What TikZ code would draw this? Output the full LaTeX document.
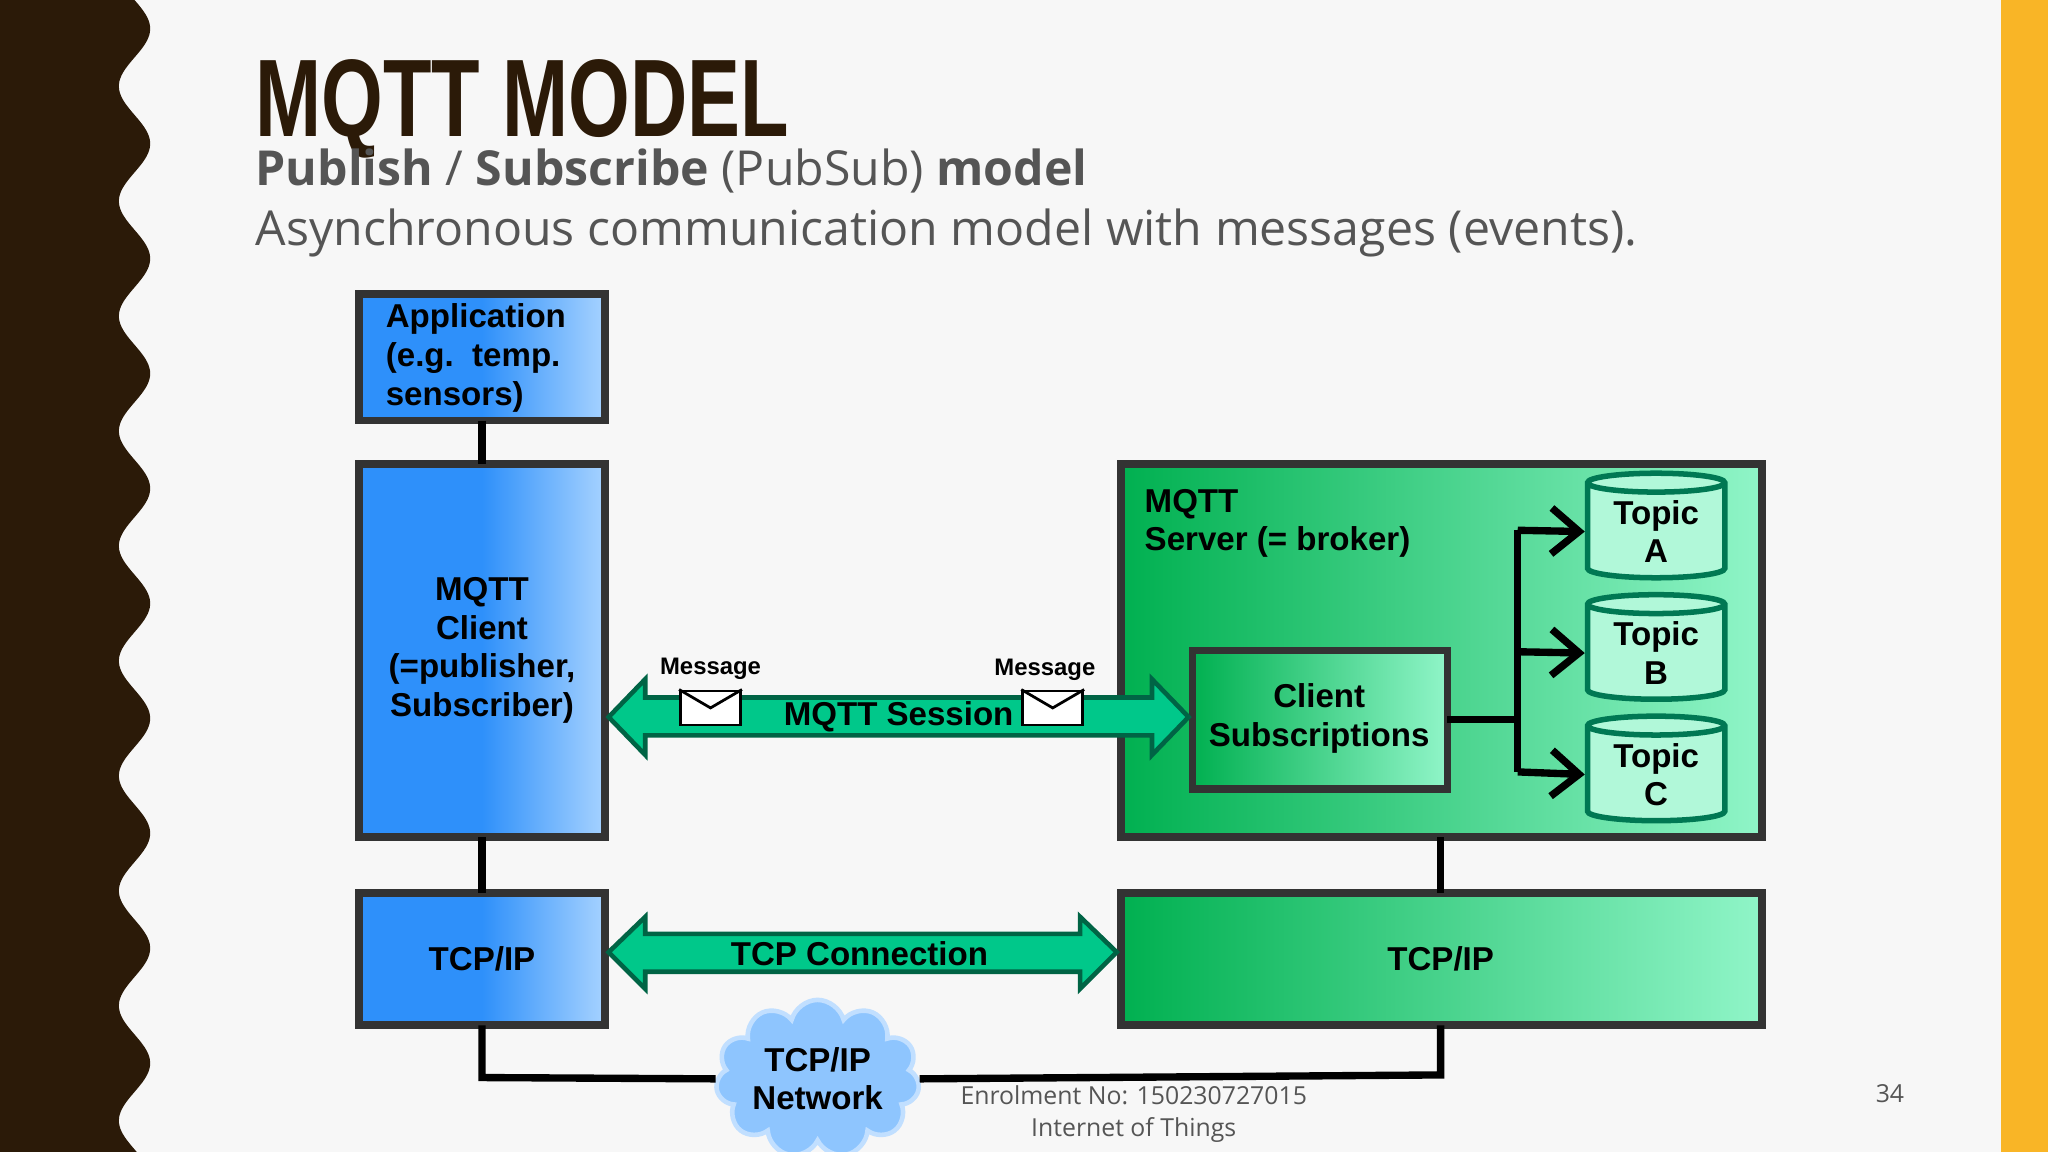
\documentclass[tikz,border=0pt]{standalone}
\usepackage{fontspec}
\setmainfont{Liberation Sans}
\newfontfamily\osans{Open Sans}
\usetikzlibrary{shapes.symbols,shapes.geometric,arrows.meta}
\definecolor{bg}{HTML}{F7F7F7}
\definecolor{brownk}{HTML}{2B1A08}
\definecolor{orng}{HTML}{F9B526}
\definecolor{bluea}{HTML}{2E90FA}
\definecolor{blueb}{HTML}{A6D2FF}
\definecolor{greena}{HTML}{00B050}
\definecolor{greenb}{HTML}{90F5C8}
\definecolor{teal}{HTML}{00C88A}
\definecolor{gray1}{HTML}{555555}
\begin{document}
\begin{tikzpicture}[x=0.01cm,y=-0.01cm,
  bbox/.style={draw=black!80,line width=1.7pt,left color=bluea,right color=blueb,shading angle=90,
     middle color=bluea},
  gbox/.style={draw=black!80,line width=1.7pt,left color=greena,right color=greenb},
  lbl/.style={font=\bfseries\fontsize{7.2}{8.4}\selectfont,align=center},
  ln/.style={line width=1.6pt,black},
  topic/.style={cylinder,shape border rotate=90,aspect=0.22,draw=teal!60!black,line width=1.2pt,
     fill=greenb!70!white,minimum width=1.05cm,minimum height=0.8cm,
     font=\bfseries\fontsize{7.2}{8.4}\selectfont,align=center,inner sep=0pt},
  env/.style={draw=black,fill=white,line width=0.6pt,minimum width=0.46cm,minimum height=0.26cm,inner sep=0pt}]
\useasboundingbox (0,0) rectangle (1568,882);
\fill[bg] (0,0) rectangle (1568,882);
\fill[orng] (1532,0) rectangle (1568,882);
\fill[brownk] (0,0) -- plot[domain=0:3608,samples=200,smooth] ({103+12*sin(\x)},{\x*0.24444}) -- (0,882) -- cycle;
% titles
\node[anchor=west,font=\bfseries\fontsize{24}{24}\selectfont,text=brownk,xscale=0.72,inner sep=0] (title) at (195,83) {MQTT MODEL};
\node[anchor=west,font=\osans\fontsize{10.5}{12}\selectfont,text=gray1,inner sep=0] (sub) at (195,131) {\textbf{Publish} / \textbf{Subscribe} (PubSub) \textbf{model}};
\node[anchor=west,font=\osans\fontsize{10.5}{12}\selectfont,text=gray1,inner sep=0] (sub2) at (195,178) {Asynchronous communication model with messages (events).};
% boxes
\draw[bbox] (275,225) rectangle (463,322);
\node[lbl,align=left,anchor=west] (app) at (283,274) {Application\\ (e.g.\ \ temp.\\ sensors)};
\draw[bbox] (275,355) rectangle (463,641);
\node[lbl] (cli) at (369,498) {MQTT\\Client\\(=publisher,\\Subscriber)};
\draw[bbox] (275,684) rectangle (463,785);
\node[lbl] (tcpl) at (369,734) {TCP/IP};
\draw[gbox] (858,355) rectangle (1349,641);
\node[lbl,align=left,anchor=north west] (srv) at (864,362) {MQTT\\Server (= broker)};
\draw[gbox] (858,684) rectangle (1349,785);
\node[lbl] (tcpr) at (1103,734) {TCP/IP};
\draw[draw=black!80,line width=1.6pt,left color=greena,right color=greenb] (913,498) rectangle (1108,604);
\node[lbl] (subs) at (1010,550) {Client\\Subscriptions};
\node[topic] (ta) at (1268,407) {Topic\\A};
\node[topic] (tb) at (1268,500) {Topic\\B};
\node[topic] (tc) at (1268,593) {Topic\\C};
% connectors
\coordinate (j1) at (369,322); \coordinate (j2) at (369,355);
\draw[ln] (j1) -- (j2);
\draw[ln] (369,641) -- (369,684);
\draw[ln] (1103,641) -- (1103,684);
\coordinate (bj) at (1162,551);
\draw[ln] (1108,551) -- (bj);
\draw[ln] (1162,406) -- (1162,591);
\draw[ln,-{Straight Barb[length=6pt,width=10pt]}] (1162,406) -- (ta.west);
\draw[ln,-{Straight Barb[length=6pt,width=10pt]}] (1162,499) -- (tb.west);
\draw[ln,-{Straight Barb[length=6pt,width=10pt]}] (1162,591) -- (tc.west);
% session arrow
\draw[fill=teal,draw=teal!50!black,line width=1pt] (466,549) -- (494,520) -- (494,534) -- (882,534) -- (882,520) -- (910,549) -- (882,578) -- (882,563) -- (494,563) -- (494,578) -- cycle;
\node[lbl] (sess) at (688,549) {MQTT Session};
\node[font=\bfseries\fontsize{5.2}{6}\selectfont] (m1) at (544,512) {Message};
\node[font=\bfseries\fontsize{5.2}{6}\selectfont] (m2) at (800,513) {Message};
\node[env] (e1) at (544,542) {};
\draw[line width=0.6pt] (e1.north west) -- (e1.center) -- (e1.north east);
\node[env] (e2) at (806,542) {};
\draw[line width=0.6pt] (e2.north west) -- (e2.center) -- (e2.north east);
% tcp arrow
\draw[fill=teal,draw=teal!50!black,line width=1pt] (466,729) -- (494,702) -- (494,715) -- (827,715) -- (827,702) -- (855,729) -- (827,757) -- (827,744) -- (494,744) -- (494,757) -- cycle;
\node[lbl] (tcpc) at (658,730) {TCP Connection};
% cloud
\node[cloud,cloud puffs=11,aspect=1.5,fill=blueb!80!bluea,draw=blueb!70!white,line width=1pt,
  minimum width=1.55cm,minimum height=1.05cm,lbl,inner sep=0pt] (net) at (626,826) {TCP/IP\\Network};
\draw[ln] (369,785) -- (369,825) -- (net.west);
\draw[ln] (net.east) -- (1103,823) -- (1103,785);
% footer
\node[font=\osans\fontsize{5.4}{6.8}\selectfont,text=gray1,align=center] (foot) at (868,853) {Enrolment No: 150230727015\\Internet of Things};
\node[font=\osans\fontsize{5.4}{6}\selectfont,text=gray1] (pg) at (1447,837) {34};
\end{tikzpicture}
\end{document}
